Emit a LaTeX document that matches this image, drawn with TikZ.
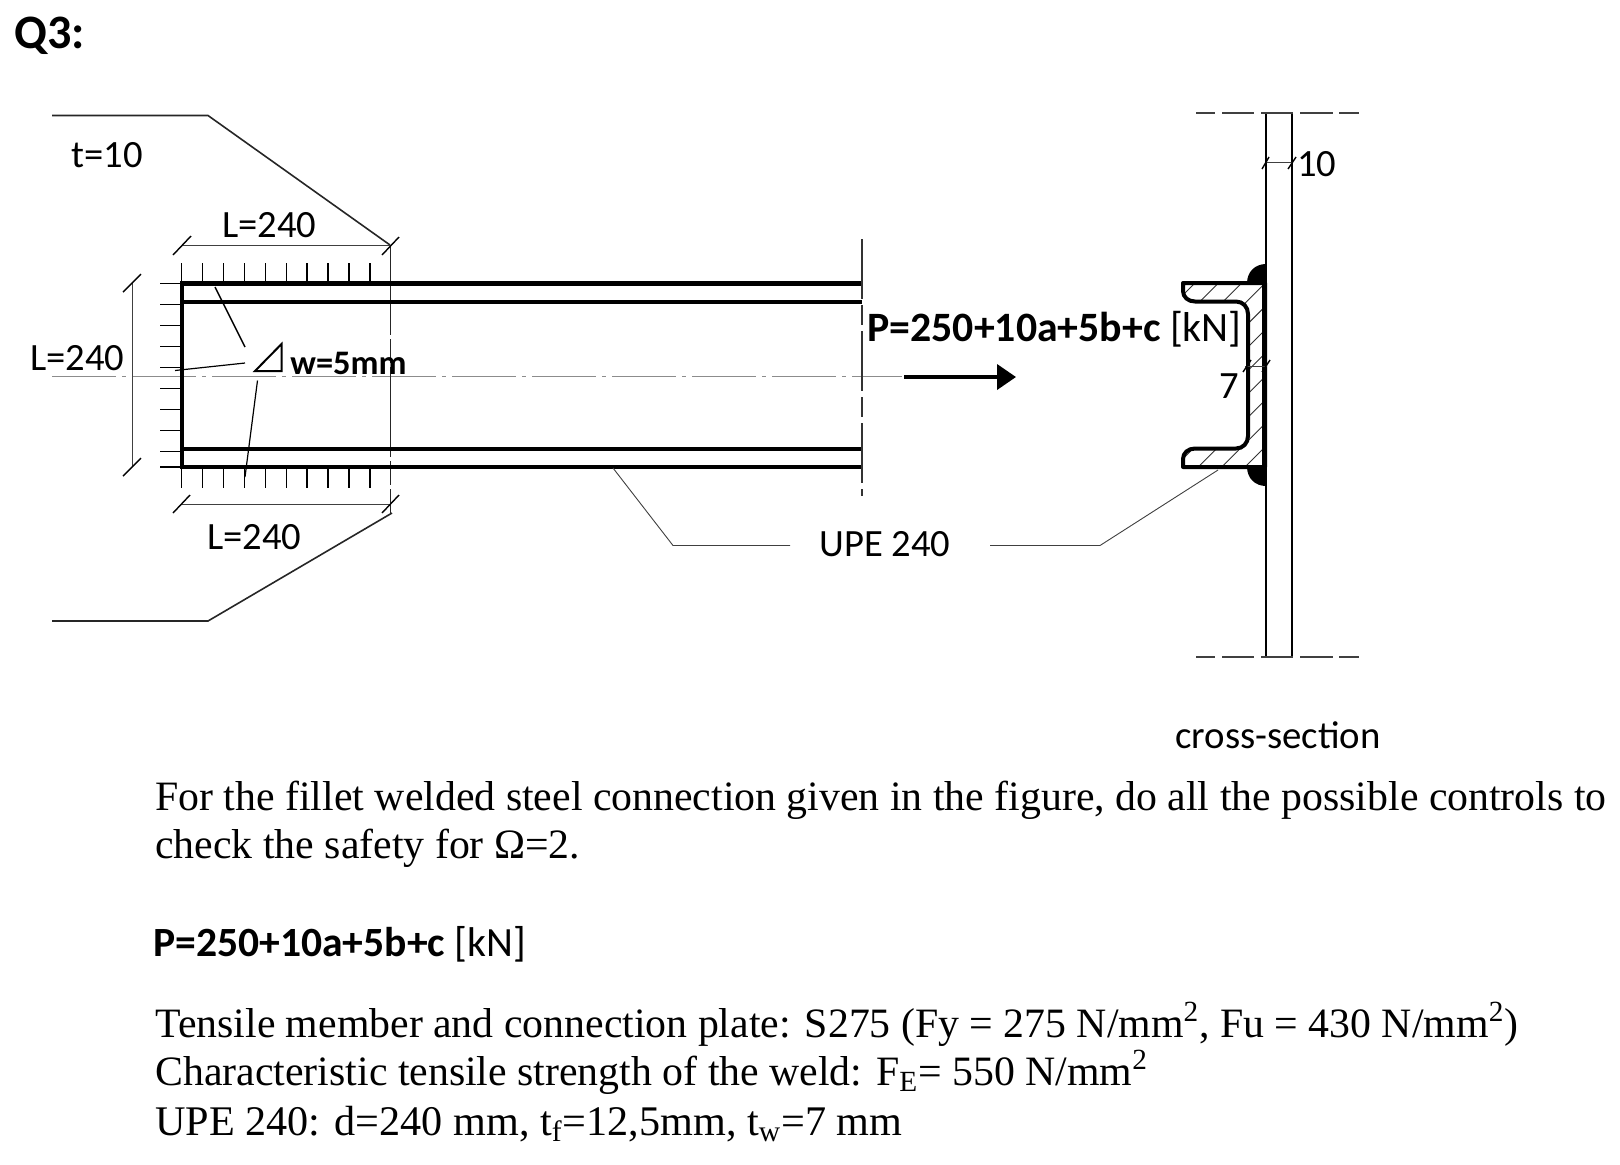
\documentclass[tikz,border=0pt]{standalone}
\usepackage{fontspec}
\setmainfont{Liberation Serif}
\newfontfamily\calfont{Carlito}
\usetikzlibrary{arrows.meta}
\newcommand{\fsz}[1]{\fontsize{#1}{#1}\selectfont}
\tikzset{
  x=0.5pt,y=-0.5pt,
  thinline/.style={line width=0.8pt,black!85},
  dimline/.style={line width=0.4pt,black!75},
  dimtick/.style={line width=0.7pt},
  weldtick/.style={line width=0.7pt},
  chord/.style={line width=2.2pt},
  plateline/.style={line width=1pt},
  centreline/.style={line width=0.5pt,black!45,dash pattern=on 32pt off 3pt on 2pt off 3pt},
  endline/.style={line width=0.6pt,black!80},
  cuts/.style={line width=0.9pt,black!75},
  lab/.style={font=\calfont\fsz{19.3},inner sep=0pt},
  bodytext/.style={font=\fsz{20.9},anchor=base west,inner sep=0pt},
}
\begin{document}
\begin{tikzpicture}[line join=miter]
\useasboundingbox (0,0) rectangle (1620,1164);
% centre line
\coordinate (cl0) at (52,376.5);
\coordinate (cl1) at (902,376.5);
\draw[centreline] (cl0) -- (cl1);
% gusset plate
\draw[thinline] (52,115.5) -- (208,115.5) -- (390,245);
\draw[thinline] (52,621) -- (208,621) -- (392,513);
\draw[thinline,dash pattern=on 45pt off 2pt on 12pt off 2pt] (390.5,245) -- (390.5,513);
% weld ticks
\foreach \x in {181.7,202.6,223.5,244.4,265.3,286.2,307.1,328,348.9,369.8}{
  \draw[weldtick] (\x,263) -- (\x,283);
  \draw[weldtick] (\x,467) -- (\x,488);
}
\foreach \y in {283.5,304.3,325.7,346.7,367.7,388.7,409.7,430.7,451.3,467}{
  \draw[weldtick] (160,\y) -- (181.7,\y);
}
% member
\draw[chord,line cap=butt] (862,283.5) -- (181.7,283.5) -- (181.7,467) -- (862,467);
\draw[line width=1.9pt] (181.7,302) -- (862,302);
\draw[line width=1.9pt] (181.7,449) -- (862,449);
\draw[endline,dash pattern=on 30pt off 3pt on 10pt off 3pt] (862,239) -- (862,496);
% dimensions
\draw[dimline] (182,245) -- (390,245);
\draw[dimtick] (173,255) -- (191,236);
\draw[dimtick] (382,255) -- (399,237);
\draw[dimline] (182,504) -- (390,504);
\draw[dimtick] (173,513) -- (190,495);
\draw[dimtick] (382,513) -- (399,495);
\draw[dimline] (132.5,283) -- (132.5,467);
\draw[dimtick] (123,292) -- (141,274);
\draw[dimtick] (123,476) -- (141,458);
% weld symbol and leaders
\draw[line width=0.7pt] (215,287) -- (245,347);
\draw[line width=0.6pt] (175,370.5) -- (245,363);
\draw[line width=0.6pt] (257.5,380.5) -- (245,477);
\draw[line width=1pt] (255,371) -- (281.5,344) -- (281.5,371) -- cycle;
% load
\draw[line width=1.9pt,-{Triangle[length=9.5pt,width=12.5pt]}] (904,377) -- (1016,377);
% UPE leaders
\coordinate (la) at (613,468);
\coordinate (lb) at (673,545.5);
\coordinate (lc) at (790,545.5);
\coordinate (ld) at (990,545.5);
\coordinate (le) at (1100,545.5);
\coordinate (lf) at (1218,470);
\draw[dimline,line width=0.45pt] (la) -- (lb) -- (lc);
\draw[dimline,line width=0.45pt] (ld) -- (le) -- (lf);
% section plate
\draw[plateline] (1265.7,113) -- (1265.7,657);
\draw[plateline] (1291.7,113) -- (1291.7,657);
\foreach \y in {113,657}{
  \draw[cuts] (1196,\y) -- (1215,\y);
  \draw[cuts] (1222,\y) -- (1254,\y);
  \draw[cuts] (1261,\y) -- (1293,\y);
  \draw[cuts] (1300,\y) -- (1333,\y);
  \draw[cuts] (1339,\y) -- (1359,\y);
}
% welds
\fill (1266,283) -- (1247,283) .. controls (1247,272) and (1255,264) .. (1266,264) -- cycle;
\fill (1266,467) -- (1247,467) .. controls (1247,478) and (1255,486) .. (1266,486) -- cycle;
% channel
\def\chan{(1183,283) -- (1265,283) -- (1265,467) -- (1183,467) -- (1183,459)
  .. controls (1183,453) and (1188,448.5) .. (1195,448.5) -- (1236,448.5)
  .. controls (1243,448.5) and (1248,443) .. (1248,436) -- (1248,314)
  .. controls (1248,307) and (1243,301.5) .. (1236,301.5) -- (1195,301.5)
  .. controls (1188,301.5) and (1183,297) .. (1183,291) -- cycle}
\begin{scope}
  \clip \chan;
  \foreach \k in {0,...,12}{
    \draw[line width=0.45pt,black!80] ({1195+\k*23.4},283) -- ({1195+\k*23.4-200},483);
  }
\end{scope}
\draw[line width=2pt,line join=round] \chan;
\draw[line width=2.2pt] (1264.5,283) -- (1264.5,467);
% dim 10, 7
\draw[dimline,line width=0.5pt] (1265.7,162) -- (1291.7,162);
\draw[dimtick] (1262,169) -- (1269,157);
\draw[dimtick] (1288,169) -- (1296,157);
\draw[dimline,line width=0.5pt] (1245,366) -- (1267,366);
\draw[dimtick] (1243,372) -- (1251,360);
\draw[dimtick] (1262,372) -- (1270,360);
% labels
\node[lab,anchor=west,font=\calfont\bfseries\fsz{24}] (q3) at (14,36) {Q3:};
\node[lab,anchor=west] (t10) at (71,155) {t=10};
\node[lab,anchor=west] (ltop) at (222,225) {L=240};
\node[lab,anchor=west] (lleft) at (30,358) {L=240};
\node[lab,anchor=west] (lbot) at (207,537) {L=240};
\node[lab,anchor=west,font=\calfont\bfseries\fsz{17.2}] (wlab) at (290,363) {w=5mm};
\node[lab,anchor=west,font=\calfont\fsz{20.9}] (load) at (867,329) {\textbf{P=250+10a+5b+c} [kN]};
\node[lab] (upe) at (885,544) {UPE 240};
\node[lab,anchor=west] (d10) at (1297,164) {10};
\node[lab] (d7) at (1229,386) {7};
\node[lab,anchor=west,font=\calfont\fsz{19.4}] (cs) at (1175,735) {cross-section};
\node[bodytext] (t1) at (155,810) {For the fillet welded steel connection given in the figure, do all the possible controls to};
\node[bodytext] (t2) at (155,858) {check the safety for Ω=2.};
\node[lab,anchor=west,font=\calfont\fsz{20.8}] (t3) at (153,944) {\textbf{P=250+10a+5b+c} [kN]};
\node[bodytext] (t4) at (155,1037) {Tensile member and connection plate: S275 (Fy = 275 N/mm\textsuperscript{2}, Fu = 430 N/mm\textsuperscript{2})};
\node[bodytext] (t5) at (155,1085) {Characteristic tensile strength of the weld: F\textsubscript{E}= 550 N/mm\textsuperscript{2}};
\node[bodytext,font=\fsz{21.1}] (t6) at (155,1135) {UPE 240: d=240 mm, t\textsubscript{f}=12,5mm, t\textsubscript{w}=7 mm};
\end{tikzpicture}
\end{document}
